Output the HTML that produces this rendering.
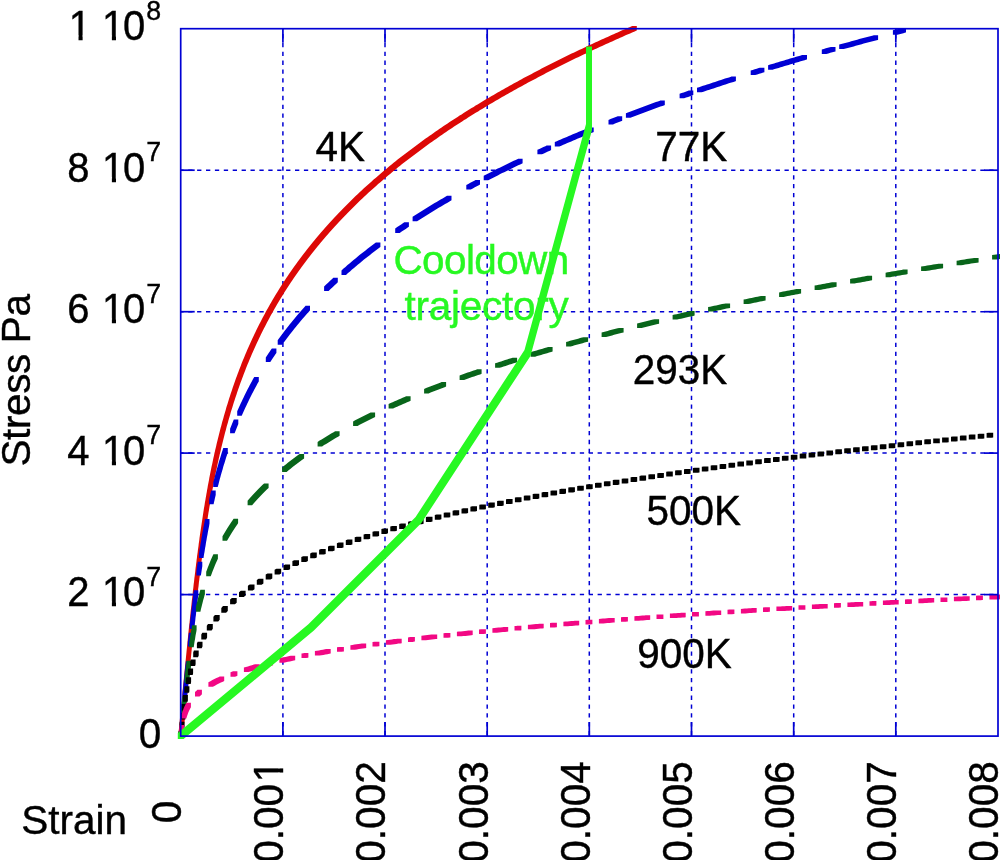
<!DOCTYPE html>
<html><head><meta charset="utf-8"><title>Stress-strain</title>
<style>html,body{margin:0;padding:0;background:#fff}svg{display:block}text{font-family:"Liberation Sans",sans-serif;font-size:40px;fill:#000;stroke:#000;stroke-width:0.4px}</style></head><body>
<svg width="1000" height="860" viewBox="0 0 1000 860">
<rect width="1000" height="860" fill="#fff"/>
<g stroke="#0000D4" stroke-width="1.5" stroke-dasharray="4.3 4.52" stroke-dashoffset="7.92" fill="none"><line x1="282.9" y1="736.1" x2="282.9" y2="28.7"/><line x1="385.0" y1="736.1" x2="385.0" y2="28.7"/><line x1="487.2" y1="736.1" x2="487.2" y2="28.7"/><line x1="589.3" y1="736.1" x2="589.3" y2="28.7"/><line x1="691.5" y1="736.1" x2="691.5" y2="28.7"/><line x1="793.7" y1="736.1" x2="793.7" y2="28.7"/><line x1="895.8" y1="736.1" x2="895.8" y2="28.7"/></g>
<g stroke="#0000D4" stroke-width="1.5" stroke-dasharray="4.3 4.6" stroke-dashoffset="1.4" fill="none"><line x1="180.7" y1="594.6" x2="998.0" y2="594.6"/><line x1="180.7" y1="453.1" x2="998.0" y2="453.1"/><line x1="180.7" y1="311.7" x2="998.0" y2="311.7"/><line x1="180.7" y1="170.2" x2="998.0" y2="170.2"/></g>
<path d="M178.4,733.9 178.6,731.9 178.8,729.9 179.0,727.9 179.2,725.9 179.4,723.9 179.6,721.9 179.8,719.9 180.0,717.9 180.2,715.9 180.4,713.9 180.6,711.9 180.8,709.9 181.0,707.9 181.2,705.9 181.4,703.9 181.6,701.9 181.8,699.9 182.0,697.9 182.2,695.9 182.4,693.9 182.5,691.9 182.7,689.9 182.9,687.9 183.1,685.9 183.3,683.9 183.5,681.9 183.7,679.9 183.9,677.9 184.1,675.9 184.3,673.9 184.5,671.9 184.7,669.9 184.9,667.9 185.1,665.9 185.3,663.9 185.5,661.9 185.7,659.9 185.9,657.9 186.1,655.9 186.3,653.9 186.5,651.9 186.7,649.9 186.9,647.9 187.1,645.9 187.3,643.9 187.5,641.9 187.7,639.9 187.9,637.9 188.1,635.9 188.3,633.9 188.5,631.9 188.7,629.9 188.9,627.9 189.1,625.9 189.4,623.9 189.6,621.9 189.8,619.9 190.0,617.9 190.2,615.9 190.4,613.9 190.6,611.9 190.8,609.9 191.1,607.9 191.3,605.9 191.5,603.9 191.7,601.9 191.9,599.9 192.2,597.9 192.4,595.9 192.6,593.9 192.8,591.9 193.0,589.9 193.3,587.9 193.5,585.9 193.7,583.9 194.0,581.9 194.2,579.9 194.4,577.9 194.7,575.9 194.9,573.9 195.2,571.9 195.4,569.9 195.6,567.9 195.9,565.9 196.1,563.9 196.4,561.9 196.6,559.9 196.9,557.9 197.1,555.9 197.4,553.9 197.7,551.9 197.9,549.9 198.2,547.9 198.5,545.9 198.7,543.9 199.0,541.9 199.3,539.9 199.5,537.9 199.8,535.9 200.1,533.9 200.4,531.9 200.7,529.9 201.0,527.9 201.3,525.9 201.6,523.9 201.9,521.9 202.2,519.9 202.5,517.9 202.8,515.9 203.1,513.9 203.4,511.9 203.7,509.9 204.0,507.9 204.4,505.9 204.7,503.9 205.0,501.9 205.4,499.9 205.7,497.9 206.1,495.9 206.4,493.9 206.8,491.9 207.1,489.9 207.5,487.9 207.8,485.9 208.2,483.9 208.6,481.9 209.0,479.9 209.3,477.9 209.7,475.9 210.1,473.9 210.5,471.9 210.9,469.9 211.3,467.9 211.7,465.9 212.2,463.9 212.6,461.9 213.0,459.9 213.4,457.9 213.9,455.9 214.3,453.9 214.8,451.9 215.2,449.9 215.7,447.9 216.2,445.9 216.6,443.9 217.1,441.9 217.6,439.9 218.1,437.9 218.6,435.9 219.1,433.9 219.6,431.9 220.1,429.9 220.6,427.9 221.2,425.9 221.7,423.9 222.2,421.9 222.8,419.9 223.4,417.9 223.9,415.9 224.5,413.9 225.1,411.9 225.7,409.9 226.2,407.9 226.8,405.9 227.5,403.9 228.1,401.9 228.7,399.9 229.3,397.9 230.0,395.9 230.6,393.9 231.3,391.9 232.0,389.9 232.6,387.9 233.3,385.9 234.0,383.9 234.7,381.9 235.4,379.9 236.1,377.9 236.9,375.9 237.6,373.9 238.4,371.9 239.1,369.9 239.9,367.9 240.7,365.9 241.4,363.9 242.2,361.9 243.0,359.9 243.9,357.9 244.7,355.9 245.5,353.9 246.4,351.9 247.2,349.9 248.1,347.9 249.0,345.9 249.9,343.9 250.8,341.9 251.7,339.9 252.6,337.9 253.6,335.9 254.5,333.9 255.5,331.9 256.4,329.9 257.4,327.9 258.4,325.9 259.4,323.9 260.5,321.9 261.5,319.9 262.5,317.9 263.6,315.9 264.7,313.9 265.7,311.9 266.8,309.9 268.0,307.9 269.1,305.9 270.2,303.9 271.4,301.9 272.5,299.9 273.7,297.9 274.9,295.9 276.1,293.9 277.4,291.9 278.6,289.9 279.8,287.9 281.1,285.9 282.4,283.9 283.7,281.9 285.0,279.9 286.3,277.9 287.7,275.9 289.0,273.9 290.4,271.9 291.8,269.9 293.2,267.9 294.6,265.9 296.1,263.9 297.5,261.9 299.0,259.9 300.5,257.9 302.0,255.9 303.5,253.9 305.1,251.9 306.6,249.9 308.2,247.9 309.8,245.9 311.4,243.9 313.0,241.9 314.7,239.9 316.3,237.9 318.0,235.9 319.7,233.9 321.4,231.9 323.2,229.9 324.9,227.9 326.7,225.9 328.5,223.9 330.3,221.9 332.2,219.9 334.0,217.9 335.9,215.9 337.8,213.9 339.7,211.9 341.7,209.9 343.6,207.9 345.6,205.9 347.6,203.9 349.6,201.9 351.6,199.9 353.6,198.0 355.6,196.1 357.6,194.2 359.6,192.3 361.6,190.4 363.6,188.6 365.6,186.8 367.6,185.0 369.6,183.2 371.6,181.4 373.6,179.6 375.6,177.9 377.6,176.2 379.6,174.4 381.6,172.7 383.6,171.1 385.6,169.4 387.6,167.7 389.6,166.1 391.6,164.5 393.6,162.8 395.6,161.2 397.6,159.6 399.6,158.1 401.6,156.5 403.6,155.0 405.6,153.4 407.6,151.9 409.6,150.4 411.6,148.9 413.6,147.4 415.6,145.9 417.6,144.4 419.6,142.9 421.6,141.5 423.6,140.0 425.6,138.6 427.6,137.2 429.6,135.8 431.6,134.4 433.6,133.0 435.6,131.6 437.6,130.2 439.6,128.8 441.6,127.5 443.6,126.1 445.6,124.8 447.6,123.5 449.6,122.1 451.6,120.8 453.6,119.5 455.6,118.2 457.6,116.9 459.6,115.6 461.6,114.4 463.6,113.1 465.6,111.8 467.6,110.6 469.6,109.3 471.6,108.1 473.6,106.9 475.6,105.6 477.6,104.4 479.6,103.2 481.6,102.0 483.6,100.8 485.6,99.6 487.6,98.4 489.6,97.3 491.6,96.1 493.6,94.9 495.6,93.8 497.6,92.6 499.6,91.5 501.6,90.3 503.6,89.2 505.6,88.0 507.6,86.9 509.6,85.8 511.6,84.7 513.6,83.6 515.6,82.5 517.6,81.4 519.6,80.3 521.6,79.2 523.6,78.1 525.6,77.1 527.6,76.0 529.6,74.9 531.6,73.9 533.6,72.8 535.6,71.8 537.6,70.7 539.6,69.7 541.6,68.6 543.6,67.6 545.6,66.6 547.6,65.6 549.6,64.5 551.6,63.5 553.6,62.5 555.6,61.5 557.6,60.5 559.6,59.5 561.6,58.5 563.6,57.6 565.6,56.6 567.6,55.6 569.6,54.6 571.6,53.6 573.6,52.7 575.6,51.7 577.6,50.8 579.6,49.8 581.6,48.9 583.6,47.9 585.6,47.0 587.6,46.0 589.6,45.1 591.6,44.2 593.6,43.2 595.6,42.3 597.6,41.4 599.6,40.5 601.6,39.6 603.6,38.7 605.6,37.8 607.6,36.9 609.6,36.0 611.6,35.1 613.6,34.2 615.6,33.3 617.6,32.4 619.6,31.5 621.6,30.6 623.6,29.8 625.6,28.9 627.6,28.0 629.6,27.2 631.6,26.3 632.3,26.0 636.8,26.0 636.8,30.5 636.1,30.8 634.1,31.7 632.1,32.5 630.1,33.4 628.1,34.3 626.1,35.1 624.1,36.0 622.1,36.9 620.1,37.8 618.1,38.7 616.1,39.6 614.1,40.5 612.1,41.4 610.1,42.3 608.1,43.2 606.1,44.1 604.1,45.0 602.1,45.9 600.1,46.8 598.1,47.7 596.1,48.7 594.1,49.6 592.1,50.5 590.1,51.5 588.1,52.4 586.1,53.4 584.1,54.3 582.1,55.3 580.1,56.2 578.1,57.2 576.1,58.1 574.1,59.1 572.1,60.1 570.1,61.1 568.1,62.1 566.1,63.0 564.1,64.0 562.1,65.0 560.1,66.0 558.1,67.0 556.1,68.0 554.1,69.0 552.1,70.1 550.1,71.1 548.1,72.1 546.1,73.1 544.1,74.2 542.1,75.2 540.1,76.3 538.1,77.3 536.1,78.4 534.1,79.4 532.1,80.5 530.1,81.6 528.1,82.6 526.1,83.7 524.1,84.8 522.1,85.9 520.1,87.0 518.1,88.1 516.1,89.2 514.1,90.3 512.1,91.4 510.1,92.5 508.1,93.7 506.1,94.8 504.1,96.0 502.1,97.1 500.1,98.3 498.1,99.4 496.1,100.6 494.1,101.8 492.1,102.9 490.1,104.1 488.1,105.3 486.1,106.5 484.1,107.7 482.1,108.9 480.1,110.1 478.1,111.4 476.1,112.6 474.1,113.8 472.1,115.1 470.1,116.3 468.1,117.6 466.1,118.9 464.1,120.1 462.1,121.4 460.1,122.7 458.1,124.0 456.1,125.3 454.1,126.6 452.1,128.0 450.1,129.3 448.1,130.6 446.1,132.0 444.1,133.3 442.1,134.7 440.1,136.1 438.1,137.5 436.1,138.9 434.1,140.3 432.1,141.7 430.1,143.1 428.1,144.5 426.1,146.0 424.1,147.4 422.1,148.9 420.1,150.4 418.1,151.9 416.1,153.4 414.1,154.9 412.1,156.4 410.1,157.9 408.1,159.5 406.1,161.0 404.1,162.6 402.1,164.1 400.1,165.7 398.1,167.3 396.1,169.0 394.1,170.6 392.1,172.2 390.1,173.9 388.1,175.6 386.1,177.2 384.1,178.9 382.1,180.7 380.1,182.4 378.1,184.1 376.1,185.9 374.1,187.7 372.1,189.5 370.1,191.3 368.1,193.1 366.1,194.9 364.1,196.8 362.1,198.7 360.1,200.6 358.1,202.5 356.1,204.4 354.1,206.4 352.1,208.4 350.1,210.4 348.1,212.4 346.2,214.4 344.2,216.4 342.3,218.4 340.4,220.4 338.5,222.4 336.7,224.4 334.8,226.4 333.0,228.4 331.2,230.4 329.4,232.4 327.7,234.4 325.9,236.4 324.2,238.4 322.5,240.4 320.8,242.4 319.2,244.4 317.5,246.4 315.9,248.4 314.3,250.4 312.7,252.4 311.1,254.4 309.6,256.4 308.0,258.4 306.5,260.4 305.0,262.4 303.5,264.4 302.0,266.4 300.6,268.4 299.1,270.4 297.7,272.4 296.3,274.4 294.9,276.4 293.5,278.4 292.2,280.4 290.8,282.4 289.5,284.4 288.2,286.4 286.9,288.4 285.6,290.4 284.3,292.4 283.1,294.4 281.9,296.4 280.6,298.4 279.4,300.4 278.2,302.4 277.0,304.4 275.9,306.4 274.7,308.4 273.6,310.4 272.5,312.4 271.3,314.4 270.2,316.4 269.2,318.4 268.1,320.4 267.0,322.4 266.0,324.4 265.0,326.4 263.9,328.4 262.9,330.4 261.9,332.4 260.9,334.4 260.0,336.4 259.0,338.4 258.1,340.4 257.1,342.4 256.2,344.4 255.3,346.4 254.4,348.4 253.5,350.4 252.6,352.4 251.7,354.4 250.9,356.4 250.0,358.4 249.2,360.4 248.4,362.4 247.5,364.4 246.7,366.4 245.9,368.4 245.2,370.4 244.4,372.4 243.6,374.4 242.9,376.4 242.1,378.4 241.4,380.4 240.6,382.4 239.9,384.4 239.2,386.4 238.5,388.4 237.8,390.4 237.1,392.4 236.5,394.4 235.8,396.4 235.1,398.4 234.5,400.4 233.8,402.4 233.2,404.4 232.6,406.4 232.0,408.4 231.3,410.4 230.7,412.4 230.2,414.4 229.6,416.4 229.0,418.4 228.4,420.4 227.9,422.4 227.3,424.4 226.7,426.4 226.2,428.4 225.7,430.4 225.1,432.4 224.6,434.4 224.1,436.4 223.6,438.4 223.1,440.4 222.6,442.4 222.1,444.4 221.6,446.4 221.1,448.4 220.7,450.4 220.2,452.4 219.7,454.4 219.3,456.4 218.8,458.4 218.4,460.4 217.9,462.4 217.5,464.4 217.1,466.4 216.7,468.4 216.2,470.4 215.8,472.4 215.4,474.4 215.0,476.4 214.6,478.4 214.2,480.4 213.8,482.4 213.5,484.4 213.1,486.4 212.7,488.4 212.3,490.4 212.0,492.4 211.6,494.4 211.3,496.4 210.9,498.4 210.6,500.4 210.2,502.4 209.9,504.4 209.5,506.4 209.2,508.4 208.9,510.4 208.5,512.4 208.2,514.4 207.9,516.4 207.6,518.4 207.3,520.4 207.0,522.4 206.7,524.4 206.4,526.4 206.1,528.4 205.8,530.4 205.5,532.4 205.2,534.4 204.9,536.4 204.6,538.4 204.3,540.4 204.0,542.4 203.8,544.4 203.5,546.4 203.2,548.4 203.0,550.4 202.7,552.4 202.4,554.4 202.2,556.4 201.9,558.4 201.6,560.4 201.4,562.4 201.1,564.4 200.9,566.4 200.6,568.4 200.4,570.4 200.1,572.4 199.9,574.4 199.7,576.4 199.4,578.4 199.2,580.4 198.9,582.4 198.7,584.4 198.5,586.4 198.2,588.4 198.0,590.4 197.8,592.4 197.5,594.4 197.3,596.4 197.1,598.4 196.9,600.4 196.7,602.4 196.4,604.4 196.2,606.4 196.0,608.4 195.8,610.4 195.6,612.4 195.3,614.4 195.1,616.4 194.9,618.4 194.7,620.4 194.5,622.4 194.3,624.4 194.1,626.4 193.9,628.4 193.6,630.4 193.4,632.4 193.2,634.4 193.0,636.4 192.8,638.4 192.6,640.4 192.4,642.4 192.2,644.4 192.0,646.4 191.8,648.4 191.6,650.4 191.4,652.4 191.2,654.4 191.0,656.4 190.8,658.4 190.6,660.4 190.4,662.4 190.2,664.4 190.0,666.4 189.8,668.4 189.6,670.4 189.4,672.4 189.2,674.4 189.0,676.4 188.8,678.4 188.6,680.4 188.4,682.4 188.2,684.4 188.0,686.4 187.8,688.4 187.6,690.4 187.4,692.4 187.2,694.4 187.0,696.4 186.9,698.4 186.7,700.4 186.5,702.4 186.3,704.4 186.1,706.4 185.9,708.4 185.7,710.4 185.5,712.4 185.3,714.4 185.1,716.4 184.9,718.4 184.7,720.4 184.5,722.4 184.3,724.4 184.1,726.4 183.9,728.4 183.7,730.4 183.5,732.4 183.3,734.4 183.1,736.4 182.9,738.4 178.4,738.4Z" fill="#DD0806"/>
<path d="M178.4,733.9 178.6,732.4 183.1,732.4 183.1,736.9 182.9,738.4 178.4,738.4ZM180.5,713.1 180.7,711.1 180.9,709.1 181.1,707.1 181.3,705.1 181.5,703.9 186.0,703.9 186.0,708.4 185.8,709.6 185.6,711.6 185.4,713.6 185.2,715.6 185.0,717.6 180.5,717.6ZM182.3,695.7 182.5,693.7 182.7,691.7 182.9,689.7 183.1,687.7 183.3,685.7 183.5,683.7 183.7,681.7 183.9,679.7 184.1,677.7 184.3,675.7 184.5,673.7 184.7,671.7 184.9,669.7 185.1,667.7 185.3,665.7 185.6,663.7 185.8,661.7 185.8,661.3 190.3,661.3 190.3,665.8 190.3,666.2 190.1,668.2 189.8,670.2 189.6,672.2 189.4,674.2 189.2,676.2 189.0,678.2 188.8,680.2 188.6,682.2 188.4,684.2 188.2,686.2 188.0,688.2 187.8,690.2 187.6,692.2 187.4,694.2 187.2,696.2 187.0,698.2 186.8,700.2 182.3,700.2ZM187.8,642.0 188.1,640.0 188.3,638.0 188.5,636.0 188.7,634.0 188.8,632.8 193.3,632.8 193.3,637.3 193.2,638.5 193.0,640.5 192.8,642.5 192.6,644.5 192.3,646.5 187.8,646.5ZM189.7,624.6 190.0,622.6 190.2,620.6 190.4,618.6 190.7,616.6 190.9,614.6 191.1,612.6 191.4,610.6 191.6,608.6 191.8,606.6 192.1,604.6 192.3,602.6 192.5,600.6 192.8,598.6 193.0,596.6 193.3,594.6 193.5,592.6 193.8,590.6 193.8,590.2 198.3,590.2 198.3,594.7 198.3,595.1 198.0,597.1 197.8,599.1 197.5,601.1 197.3,603.1 197.0,605.1 196.8,607.1 196.6,609.1 196.3,611.1 196.1,613.1 195.9,615.1 195.6,617.1 195.4,619.1 195.2,621.1 194.9,623.1 194.7,625.1 194.5,627.1 194.2,629.1 189.7,629.1ZM196.4,570.9 196.7,568.9 197.0,566.9 197.3,564.9 197.6,562.9 197.8,561.7 202.3,561.7 202.3,566.2 202.1,567.4 201.8,569.4 201.5,571.4 201.2,573.4 200.9,575.4 196.4,575.4ZM199.0,553.5 199.3,551.5 199.6,549.5 200.0,547.5 200.3,545.5 200.6,543.5 201.0,541.5 201.3,539.5 201.6,537.5 202.0,535.5 202.3,533.5 202.7,531.5 203.1,529.5 203.4,527.5 203.8,525.5 204.2,523.5 204.6,521.5 204.9,519.5 205.0,519.1 209.5,519.1 209.5,523.6 209.4,524.0 209.1,526.0 208.7,528.0 208.3,530.0 207.9,532.0 207.6,534.0 207.2,536.0 206.8,538.0 206.5,540.0 206.1,542.0 205.8,544.0 205.5,546.0 205.1,548.0 204.8,550.0 204.5,552.0 204.1,554.0 203.8,556.0 203.5,558.0 199.0,558.0ZM209.1,499.8 209.5,497.8 210.0,495.8 210.4,493.8 210.9,491.8 211.2,490.6 215.7,490.6 215.7,495.1 215.4,496.3 214.9,498.3 214.5,500.3 214.0,502.3 213.6,504.3 209.1,504.3ZM213.2,482.4 213.8,480.4 214.3,478.4 214.8,476.4 215.3,474.4 215.9,472.4 216.4,470.4 217.0,468.4 217.6,466.4 218.2,464.4 218.7,462.4 219.3,460.4 220.0,458.4 220.6,456.4 221.2,454.4 221.8,452.4 222.5,450.4 223.1,448.4 223.3,448.0 227.8,448.0 227.8,452.5 227.6,452.9 227.0,454.9 226.3,456.9 225.7,458.9 225.1,460.9 224.5,462.9 223.8,464.9 223.2,466.9 222.7,468.9 222.1,470.9 221.5,472.9 220.9,474.9 220.4,476.9 219.8,478.9 219.3,480.9 218.8,482.9 218.3,484.9 217.7,486.9 213.2,486.9ZM230.1,428.7 230.9,426.7 231.7,424.7 232.5,422.7 233.3,420.7 233.8,419.5 238.3,419.5 238.3,424.0 237.8,425.2 237.0,427.2 236.2,429.2 235.4,431.2 234.6,433.2 230.1,433.2ZM237.2,411.3 238.1,409.3 239.0,407.3 239.9,405.3 240.8,403.3 241.8,401.3 242.7,399.3 243.7,397.3 244.6,395.3 245.6,393.3 246.6,391.3 247.6,389.3 248.7,387.3 249.7,385.3 250.8,383.3 251.9,381.3 252.9,379.3 254.1,377.3 254.3,376.9 258.8,376.9 258.8,381.4 258.6,381.8 257.4,383.8 256.4,385.8 255.3,387.8 254.2,389.8 253.2,391.8 252.1,393.8 251.1,395.8 250.1,397.8 249.1,399.8 248.2,401.8 247.2,403.8 246.3,405.8 245.3,407.8 244.4,409.8 243.5,411.8 242.6,413.8 241.7,415.8 237.2,415.8ZM265.8,357.6 267.1,355.6 268.4,353.6 269.8,351.6 271.1,349.6 271.9,348.4 276.4,348.4 276.4,352.9 275.6,354.1 274.3,356.1 272.9,358.1 271.6,360.1 270.3,362.1 265.8,362.1ZM277.7,340.2 279.1,338.2 280.6,336.2 282.1,334.2 283.6,332.2 285.1,330.2 286.7,328.2 288.3,326.2 289.8,324.2 291.5,322.2 293.1,320.2 294.8,318.2 296.4,316.2 298.1,314.2 299.9,312.2 301.6,310.2 303.4,308.2 305.2,306.2 305.5,305.8 310.0,305.8 310.0,310.3 309.7,310.7 307.9,312.7 306.1,314.7 304.4,316.7 302.6,318.7 300.9,320.7 299.3,322.7 297.6,324.7 296.0,326.7 294.3,328.7 292.8,330.7 291.2,332.7 289.6,334.7 288.1,336.7 286.6,338.7 285.1,340.7 283.6,342.7 282.2,344.7 277.7,344.7ZM324.1,286.5 326.1,284.6 328.1,282.7 330.1,280.8 332.1,278.9 333.3,277.8 337.8,277.8 337.8,282.3 336.6,283.4 334.6,285.3 332.6,287.2 330.6,289.1 328.6,291.0 324.1,291.0ZM341.5,270.4 343.5,268.6 345.5,266.9 347.5,265.1 349.5,263.4 351.5,261.7 353.5,260.1 355.5,258.4 357.5,256.8 359.5,255.1 361.5,253.5 363.5,251.9 365.5,250.4 367.5,248.8 369.5,247.2 371.5,245.7 373.5,244.2 375.5,242.7 375.9,242.4 380.4,242.4 380.4,246.9 380.0,247.2 378.0,248.7 376.0,250.2 374.0,251.7 372.0,253.3 370.0,254.9 368.0,256.4 366.0,258.0 364.0,259.6 362.0,261.3 360.0,262.9 358.0,264.6 356.0,266.2 354.0,267.9 352.0,269.6 350.0,271.4 348.0,273.1 346.0,274.9 341.5,274.9ZM395.2,228.5 397.2,227.1 399.2,225.7 401.2,224.4 403.2,223.0 404.4,222.2 408.9,222.2 408.9,226.7 407.7,227.5 405.7,228.9 403.7,230.2 401.7,231.6 399.7,233.0 395.2,233.0ZM412.6,216.8 414.6,215.6 416.6,214.3 418.6,213.0 420.6,211.7 422.6,210.5 424.6,209.2 426.6,208.0 428.6,206.8 430.6,205.5 432.6,204.3 434.6,203.1 436.6,201.9 438.6,200.7 440.6,199.6 442.6,198.4 444.6,197.2 446.6,196.1 447.0,195.8 451.5,195.8 451.5,200.3 451.1,200.6 449.1,201.7 447.1,202.9 445.1,204.1 443.1,205.2 441.1,206.4 439.1,207.6 437.1,208.8 435.1,210.0 433.1,211.3 431.1,212.5 429.1,213.7 427.1,215.0 425.1,216.2 423.1,217.5 421.1,218.8 419.1,220.1 417.1,221.3 412.6,221.3ZM466.3,185.0 468.3,183.9 470.3,182.8 472.3,181.8 474.3,180.7 475.5,180.1 480.0,180.1 480.0,184.6 478.8,185.2 476.8,186.3 474.8,187.3 472.8,188.4 470.8,189.5 466.3,189.5ZM483.7,175.8 485.7,174.7 487.7,173.7 489.7,172.7 491.7,171.7 493.7,170.7 495.7,169.6 497.7,168.6 499.7,167.7 501.7,166.7 503.7,165.7 505.7,164.7 507.7,163.7 509.7,162.7 511.7,161.8 513.7,160.8 515.7,159.9 517.7,158.9 518.1,158.7 522.6,158.7 522.6,163.2 522.2,163.4 520.2,164.4 518.2,165.3 516.2,166.3 514.2,167.2 512.2,168.2 510.2,169.2 508.2,170.2 506.2,171.2 504.2,172.2 502.2,173.1 500.2,174.1 498.2,175.2 496.2,176.2 494.2,177.2 492.2,178.2 490.2,179.2 488.2,180.3 483.7,180.3ZM537.4,149.8 539.4,148.9 541.4,148.0 543.4,147.1 545.4,146.2 546.6,145.6 551.1,145.6 551.1,150.1 549.9,150.7 547.9,151.6 545.9,152.5 543.9,153.4 541.9,154.3 537.4,154.3ZM554.8,142.0 556.8,141.2 558.8,140.3 560.8,139.4 562.8,138.6 564.8,137.7 566.8,136.9 568.8,136.0 570.8,135.2 572.8,134.3 574.8,133.5 576.8,132.7 578.8,131.8 580.8,131.0 582.8,130.2 584.8,129.4 586.8,128.5 588.8,127.7 589.2,127.6 593.7,127.6 593.7,132.1 593.3,132.2 591.3,133.0 589.3,133.9 587.3,134.7 585.3,135.5 583.3,136.3 581.3,137.2 579.3,138.0 577.3,138.8 575.3,139.7 573.3,140.5 571.3,141.4 569.3,142.2 567.3,143.1 565.3,143.9 563.3,144.8 561.3,145.7 559.3,146.5 554.8,146.5ZM608.5,119.9 610.5,119.1 612.5,118.3 614.5,117.5 616.5,116.8 617.7,116.3 622.2,116.3 622.2,120.8 621.0,121.3 619.0,122.0 617.0,122.8 615.0,123.6 613.0,124.4 608.5,124.4ZM625.9,113.2 627.9,112.4 629.9,111.7 631.9,110.9 633.9,110.2 635.9,109.4 637.9,108.7 639.9,107.9 641.9,107.2 643.9,106.5 645.9,105.7 647.9,105.0 649.9,104.3 651.9,103.6 653.9,102.8 655.9,102.1 657.9,101.4 659.9,100.7 660.3,100.5 664.8,100.5 664.8,105.0 664.4,105.2 662.4,105.9 660.4,106.6 658.4,107.3 656.4,108.1 654.4,108.8 652.4,109.5 650.4,110.2 648.4,111.0 646.4,111.7 644.4,112.4 642.4,113.2 640.4,113.9 638.4,114.7 636.4,115.4 634.4,116.2 632.4,116.9 630.4,117.7 625.9,117.7ZM679.6,93.8 681.6,93.1 683.6,92.4 685.6,91.7 687.6,91.0 688.8,90.6 693.3,90.6 693.3,95.1 692.1,95.5 690.1,96.2 688.1,96.9 686.1,97.6 684.1,98.3 679.6,98.3ZM697.0,87.8 699.0,87.2 701.0,86.5 703.0,85.8 705.0,85.2 707.0,84.5 709.0,83.9 711.0,83.2 713.0,82.5 715.0,81.9 717.0,81.2 719.0,80.6 721.0,79.9 723.0,79.3 725.0,78.6 727.0,78.0 729.0,77.4 731.0,76.7 731.4,76.6 735.9,76.6 735.9,81.1 735.5,81.2 733.5,81.9 731.5,82.5 729.5,83.1 727.5,83.8 725.5,84.4 723.5,85.1 721.5,85.7 719.5,86.4 717.5,87.0 715.5,87.7 713.5,88.4 711.5,89.0 709.5,89.7 707.5,90.3 705.5,91.0 703.5,91.7 701.5,92.3 697.0,92.3ZM750.7,70.5 752.7,69.9 754.7,69.3 756.7,68.7 758.7,68.0 759.9,67.7 764.4,67.7 764.4,72.2 763.2,72.5 761.2,73.2 759.2,73.8 757.2,74.4 755.2,75.0 750.7,75.0ZM768.1,65.2 770.1,64.6 772.1,64.0 774.1,63.4 776.1,62.8 778.1,62.2 780.1,61.6 782.1,61.0 784.1,60.4 786.1,59.8 788.1,59.2 790.1,58.6 792.1,58.0 794.1,57.4 796.1,56.8 798.1,56.3 800.1,55.7 802.1,55.1 802.5,55.0 807.0,55.0 807.0,59.5 806.6,59.6 804.6,60.2 802.6,60.8 800.6,61.3 798.6,61.9 796.6,62.5 794.6,63.1 792.6,63.7 790.6,64.3 788.6,64.9 786.6,65.5 784.6,66.1 782.6,66.7 780.6,67.3 778.6,67.9 776.6,68.5 774.6,69.1 772.6,69.7 768.1,69.7ZM821.8,49.5 823.8,48.9 825.8,48.3 827.8,47.8 829.8,47.2 831.0,46.9 835.5,46.9 835.5,51.4 834.3,51.7 832.3,52.3 830.3,52.8 828.3,53.4 826.3,54.0 821.8,54.0ZM839.2,44.6 841.2,44.1 843.2,43.5 845.2,43.0 847.2,42.4 849.2,41.9 851.2,41.3 853.2,40.8 855.2,40.2 857.2,39.7 859.2,39.1 861.2,38.6 863.2,38.1 865.2,37.5 867.2,37.0 869.2,36.5 871.2,35.9 873.2,35.4 873.6,35.3 878.1,35.3 878.1,39.8 877.7,39.9 875.7,40.4 873.7,41.0 871.7,41.5 869.7,42.0 867.7,42.6 865.7,43.1 863.7,43.6 861.7,44.2 859.7,44.7 857.7,45.3 855.7,45.8 853.7,46.4 851.7,46.9 849.7,47.5 847.7,48.0 845.7,48.6 843.7,49.1 839.2,49.1ZM892.9,30.2 894.9,29.7 896.9,29.2 898.9,28.7 900.9,28.1 901.5,28.0 906.0,28.0 906.0,32.5 905.4,32.6 903.4,33.2 901.4,33.7 899.4,34.2 897.4,34.7 892.9,34.7Z" fill="#0000D4"/>
<path d="M178.4,733.9 178.7,731.9 178.7,731.8 183.2,731.8 183.2,736.3 183.2,736.4 182.9,738.4 178.4,738.4ZM180.6,713.8 180.8,711.8 181.0,709.8 181.2,707.8 181.4,705.8 181.6,703.8 181.9,701.8 182.1,699.8 182.3,697.8 182.5,696.3 187.0,696.3 187.0,700.8 186.8,702.3 186.6,704.3 186.4,706.3 186.1,708.3 185.9,710.3 185.7,712.3 185.5,714.3 185.3,716.3 185.1,718.3 180.6,718.3ZM184.5,678.3 184.7,676.3 185.0,674.3 185.2,672.3 185.4,670.3 185.7,668.3 185.9,666.3 186.2,664.3 186.5,662.3 186.6,660.8 191.1,660.8 191.1,665.3 191.0,666.8 190.7,668.8 190.4,670.8 190.2,672.8 189.9,674.8 189.7,676.8 189.5,678.8 189.2,680.8 189.0,682.8 184.5,682.8ZM189.2,642.8 189.5,640.8 189.8,638.8 190.1,636.8 190.5,634.8 190.8,632.8 191.1,630.8 191.5,628.8 191.9,626.8 192.1,625.3 196.6,625.3 196.6,629.8 196.4,631.3 196.0,633.3 195.6,635.3 195.3,637.3 195.0,639.3 194.6,641.3 194.3,643.3 194.0,645.3 193.7,647.3 189.2,647.3ZM195.9,607.3 196.3,605.3 196.8,603.3 197.3,601.3 197.8,599.3 198.3,597.3 198.8,595.3 199.4,593.3 199.9,591.3 200.4,589.8 204.9,589.8 204.9,594.3 204.4,595.8 203.9,597.8 203.3,599.8 202.8,601.8 202.3,603.8 201.8,605.8 201.3,607.8 200.8,609.8 200.4,611.8 195.9,611.8ZM206.2,571.8 207.0,569.8 207.7,567.8 208.5,565.8 209.3,563.8 210.1,561.8 210.9,559.8 211.8,557.8 212.7,555.8 213.4,554.3 217.9,554.3 217.9,558.8 217.2,560.3 216.3,562.3 215.4,564.3 214.6,566.3 213.8,568.3 213.0,570.3 212.2,572.3 211.5,574.3 210.7,576.3 206.2,576.3ZM222.5,536.3 223.7,534.3 224.9,532.3 226.1,530.3 227.3,528.3 228.6,526.3 229.9,524.3 231.2,522.3 232.6,520.3 233.6,518.8 238.1,518.8 238.1,523.3 237.1,524.8 235.7,526.8 234.4,528.8 233.1,530.8 231.8,532.8 230.6,534.8 229.4,536.8 228.2,538.8 227.0,540.8 222.5,540.8ZM247.6,500.8 249.3,498.8 251.1,496.8 252.9,494.8 254.8,492.8 256.7,490.8 258.6,488.8 260.6,486.8 262.6,484.8 264.1,483.4 268.6,483.4 268.6,487.9 267.1,489.3 265.1,491.3 263.1,493.3 261.2,495.3 259.3,497.3 257.4,499.3 255.6,501.3 253.8,503.3 252.1,505.3 247.6,505.3ZM282.1,467.4 284.1,465.8 286.1,464.2 288.1,462.6 290.1,461.1 292.1,459.6 294.1,458.1 296.1,456.6 298.1,455.1 299.6,454.1 304.1,454.1 304.1,458.6 302.6,459.6 300.6,461.1 298.6,462.6 296.6,464.1 294.6,465.6 292.6,467.1 290.6,468.7 288.6,470.3 286.6,471.9 282.1,471.9ZM317.6,441.9 319.6,440.6 321.6,439.4 323.6,438.2 325.6,436.9 327.6,435.7 329.6,434.5 331.6,433.3 333.6,432.2 335.1,431.3 339.6,431.3 339.6,435.8 338.1,436.7 336.1,437.8 334.1,439.0 332.1,440.2 330.1,441.4 328.1,442.7 326.1,443.9 324.1,445.1 322.1,446.4 317.6,446.4ZM353.1,421.4 355.1,420.3 357.1,419.3 359.1,418.3 361.1,417.2 363.1,416.2 365.1,415.2 367.1,414.2 369.1,413.2 370.6,412.5 375.1,412.5 375.1,417.0 373.6,417.7 371.6,418.7 369.6,419.7 367.6,420.7 365.6,421.7 363.6,422.8 361.6,423.8 359.6,424.8 357.6,425.9 353.1,425.9ZM388.6,404.0 390.6,403.1 392.6,402.2 394.6,401.3 396.6,400.4 398.6,399.6 400.6,398.7 402.6,397.8 404.6,397.0 406.1,396.3 410.6,396.3 410.6,400.8 409.1,401.5 407.1,402.3 405.1,403.2 403.1,404.1 401.1,404.9 399.1,405.8 397.1,406.7 395.1,407.6 393.1,408.5 388.6,408.5ZM424.1,388.9 426.1,388.1 428.1,387.3 430.1,386.5 432.1,385.8 434.1,385.0 436.1,384.2 438.1,383.4 440.1,382.7 441.6,382.1 446.1,382.1 446.1,386.6 444.6,387.2 442.6,387.9 440.6,388.7 438.6,389.5 436.6,390.3 434.6,391.0 432.6,391.8 430.6,392.6 428.6,393.4 424.1,393.4ZM459.6,375.5 461.6,374.8 463.6,374.0 465.6,373.3 467.6,372.6 469.6,371.9 471.6,371.2 473.6,370.5 475.6,369.9 477.1,369.3 481.6,369.3 481.6,373.8 480.1,374.4 478.1,375.0 476.1,375.7 474.1,376.4 472.1,377.1 470.1,377.8 468.1,378.5 466.1,379.3 464.1,380.0 459.6,380.0ZM495.1,363.3 497.1,362.7 499.1,362.0 501.1,361.4 503.1,360.7 505.1,360.1 507.1,359.5 509.1,358.8 511.1,358.2 512.6,357.7 517.1,357.7 517.1,362.2 515.6,362.7 513.6,363.3 511.6,364.0 509.6,364.6 507.6,365.2 505.6,365.9 503.6,366.5 501.6,367.2 499.6,367.8 495.1,367.8ZM530.6,352.2 532.6,351.6 534.6,351.0 536.6,350.4 538.6,349.8 540.6,349.2 542.6,348.7 544.6,348.1 546.6,347.5 548.1,347.1 552.6,347.1 552.6,351.6 551.1,352.0 549.1,352.6 547.1,353.2 545.1,353.7 543.1,354.3 541.1,354.9 539.1,355.5 537.1,356.1 535.1,356.7 530.6,356.7ZM566.1,342.0 568.1,341.4 570.1,340.8 572.1,340.3 574.1,339.7 576.1,339.2 578.1,338.7 580.1,338.1 582.1,337.6 583.6,337.2 588.1,337.2 588.1,341.7 586.6,342.1 584.6,342.6 582.6,343.2 580.6,343.7 578.6,344.2 576.6,344.8 574.6,345.3 572.6,345.9 570.6,346.5 566.1,346.5ZM601.6,332.4 603.6,331.9 605.6,331.4 607.6,330.9 609.6,330.3 611.6,329.8 613.6,329.3 615.6,328.8 617.6,328.3 619.1,327.9 623.6,327.9 623.6,332.4 622.1,332.8 620.1,333.3 618.1,333.8 616.1,334.3 614.1,334.8 612.1,335.4 610.1,335.9 608.1,336.4 606.1,336.9 601.6,336.9ZM637.1,323.5 639.1,323.0 641.1,322.5 643.1,322.0 645.1,321.5 647.1,321.1 649.1,320.6 651.1,320.1 653.1,319.6 654.6,319.3 659.1,319.3 659.1,323.8 657.6,324.1 655.6,324.6 653.6,325.1 651.6,325.6 649.6,326.0 647.6,326.5 645.6,327.0 643.6,327.5 641.6,328.0 637.1,328.0ZM672.6,315.1 674.6,314.6 676.6,314.2 678.6,313.7 680.6,313.2 682.6,312.8 684.6,312.3 686.6,311.9 688.6,311.4 690.1,311.1 694.6,311.1 694.6,315.6 693.1,315.9 691.1,316.4 689.1,316.8 687.1,317.3 685.1,317.7 683.1,318.2 681.1,318.7 679.1,319.1 677.1,319.6 672.6,319.6ZM708.1,307.1 710.1,306.7 712.1,306.3 714.1,305.8 716.1,305.4 718.1,305.0 720.1,304.5 722.1,304.1 724.1,303.7 725.6,303.4 730.1,303.4 730.1,307.9 728.6,308.2 726.6,308.6 724.6,309.0 722.6,309.5 720.6,309.9 718.6,310.3 716.6,310.8 714.6,311.2 712.6,311.6 708.1,311.6ZM743.6,299.6 745.6,299.2 747.6,298.8 749.6,298.3 751.6,297.9 753.6,297.5 755.6,297.1 757.6,296.7 759.6,296.3 761.1,296.0 765.6,296.0 765.6,300.5 764.1,300.8 762.1,301.2 760.1,301.6 758.1,302.0 756.1,302.4 754.1,302.8 752.1,303.3 750.1,303.7 748.1,304.1 743.6,304.1ZM779.1,292.4 781.1,292.0 783.1,291.6 785.1,291.2 787.1,290.8 789.1,290.4 791.1,290.0 793.1,289.7 795.1,289.3 796.6,289.0 801.1,289.0 801.1,293.5 799.6,293.8 797.6,294.2 795.6,294.5 793.6,294.9 791.6,295.3 789.6,295.7 787.6,296.1 785.6,296.5 783.6,296.9 779.1,296.9ZM814.6,285.5 816.6,285.2 818.6,284.8 820.6,284.4 822.6,284.0 824.6,283.7 826.6,283.3 828.6,282.9 830.6,282.5 832.1,282.3 836.6,282.3 836.6,286.8 835.1,287.0 833.1,287.4 831.1,287.8 829.1,288.2 827.1,288.5 825.1,288.9 823.1,289.3 821.1,289.7 819.1,290.0 814.6,290.0ZM850.1,279.0 852.1,278.6 854.1,278.2 856.1,277.9 858.1,277.5 860.1,277.2 862.1,276.8 864.1,276.5 866.1,276.1 867.6,275.8 872.1,275.8 872.1,280.3 870.6,280.6 868.6,281.0 866.6,281.3 864.6,281.7 862.6,282.0 860.6,282.4 858.6,282.7 856.6,283.1 854.6,283.5 850.1,283.5ZM885.6,272.7 887.6,272.3 889.6,272.0 891.6,271.6 893.6,271.3 895.6,270.9 897.6,270.6 899.6,270.2 901.6,269.9 903.1,269.6 907.6,269.6 907.6,274.1 906.1,274.4 904.1,274.7 902.1,275.1 900.1,275.4 898.1,275.8 896.1,276.1 894.1,276.5 892.1,276.8 890.1,277.2 885.6,277.2ZM921.1,266.6 923.1,266.3 925.1,265.9 927.1,265.6 929.1,265.3 931.1,264.9 933.1,264.6 935.1,264.3 937.1,263.9 938.6,263.7 943.1,263.7 943.1,268.2 941.6,268.4 939.6,268.8 937.6,269.1 935.6,269.4 933.6,269.8 931.6,270.1 929.6,270.4 927.6,270.8 925.6,271.1 921.1,271.1ZM956.6,260.8 958.6,260.4 960.6,260.1 962.6,259.8 964.6,259.5 966.6,259.1 968.6,258.8 970.6,258.5 972.6,258.2 974.1,257.9 978.6,257.9 978.6,262.4 977.1,262.7 975.1,263.0 973.1,263.3 971.1,263.6 969.1,264.0 967.1,264.3 965.1,264.6 963.1,264.9 961.1,265.3 956.6,265.3ZM992.1,255.1 994.1,254.8 996.1,254.5 998.1,254.2 1000.1,253.9 1000.8,253.8 1005.3,253.8 1005.3,258.3 1004.6,258.4 1002.6,258.7 1000.6,259.0 998.6,259.3 996.6,259.6 992.1,259.6Z" fill="#08651A"/>
<path d="M178.4,732.5 178.7,730.7 183.5,730.7 183.5,735.5 183.2,737.3 178.4,737.3ZM179.5,723.6 179.7,721.8 184.5,721.8 184.5,726.6 184.3,728.4 179.5,728.4ZM180.6,714.7 180.8,712.9 185.6,712.9 185.6,717.7 185.4,719.5 180.6,719.5ZM181.7,705.8 181.9,704.0 186.7,704.0 186.7,708.8 186.5,710.6 181.7,710.6ZM182.9,696.9 183.1,695.1 187.9,695.1 187.9,699.9 187.7,701.7 182.9,701.7ZM184.3,688.0 184.6,686.2 189.4,686.2 189.4,691.0 189.1,692.8 184.3,692.8ZM185.9,679.1 186.3,677.3 191.1,677.3 191.1,682.1 190.7,683.9 185.9,683.9ZM187.9,670.2 188.3,668.4 193.1,668.4 193.1,673.2 192.7,675.0 187.9,675.0ZM190.3,661.3 190.8,659.5 195.6,659.5 195.6,664.3 195.1,666.1 190.3,666.1ZM193.2,652.4 193.9,650.6 198.7,650.6 198.7,655.4 198.0,657.2 193.2,657.2ZM196.9,643.5 197.7,641.7 202.5,641.7 202.5,646.5 201.7,648.3 196.9,648.3ZM201.3,634.6 202.3,632.8 207.1,632.8 207.1,637.6 206.1,639.4 201.3,639.4ZM206.8,625.7 208.0,623.9 212.8,623.9 212.8,628.7 211.6,630.5 206.8,630.5ZM213.4,616.8 214.9,615.0 219.7,615.0 219.7,619.8 218.2,621.6 213.4,621.6ZM221.3,607.9 223.0,606.1 227.8,606.1 227.8,610.9 226.1,612.7 221.3,612.7ZM230.1,599.5 231.9,597.9 236.7,597.9 236.7,602.7 234.9,604.3 230.1,604.3ZM239.0,592.2 240.8,590.8 245.6,590.8 245.6,595.6 243.8,597.0 239.0,597.0ZM247.9,585.7 249.7,584.5 254.5,584.5 254.5,589.3 252.7,590.5 247.9,590.5ZM256.8,579.9 258.6,578.8 263.4,578.8 263.4,583.6 261.6,584.7 256.8,584.7ZM265.7,574.6 267.5,573.6 272.3,573.6 272.3,578.4 270.5,579.4 265.7,579.4ZM274.6,569.8 276.4,568.8 281.2,568.8 281.2,573.6 279.4,574.6 274.6,574.6ZM283.5,565.3 285.3,564.4 290.1,564.4 290.1,569.2 288.3,570.1 283.5,570.1ZM292.4,561.1 294.2,560.2 299.0,560.2 299.0,565.0 297.2,565.9 292.4,565.9ZM301.3,557.1 303.1,556.3 307.9,556.3 307.9,561.1 306.1,561.9 301.3,561.9ZM310.2,553.4 312.0,552.6 316.8,552.6 316.8,557.4 315.0,558.2 310.2,558.2ZM319.1,549.8 320.9,549.1 325.7,549.1 325.7,553.9 323.9,554.6 319.1,554.6ZM328.0,546.5 329.8,545.8 334.6,545.8 334.6,550.6 332.8,551.3 328.0,551.3ZM336.9,543.3 338.7,542.6 343.5,542.6 343.5,547.4 341.7,548.1 336.9,548.1ZM345.8,540.2 347.6,539.6 352.4,539.6 352.4,544.4 350.6,545.0 345.8,545.0ZM354.7,537.3 356.5,536.7 361.3,536.7 361.3,541.5 359.5,542.1 354.7,542.1ZM363.6,534.4 365.4,533.9 370.2,533.9 370.2,538.7 368.4,539.2 363.6,539.2ZM372.5,531.7 374.3,531.2 379.1,531.2 379.1,536.0 377.3,536.5 372.5,536.5ZM381.4,529.1 383.2,528.5 388.0,528.5 388.0,533.3 386.2,533.9 381.4,533.9ZM390.3,526.5 392.1,526.0 396.9,526.0 396.9,530.8 395.1,531.3 390.3,531.3ZM399.2,524.1 401.0,523.6 405.8,523.6 405.8,528.4 404.0,528.9 399.2,528.9ZM408.1,521.7 409.9,521.2 414.7,521.2 414.7,526.0 412.9,526.5 408.1,526.5ZM417.0,519.4 418.8,518.9 423.6,518.9 423.6,523.7 421.8,524.2 417.0,524.2ZM425.9,517.1 427.7,516.7 432.5,516.7 432.5,521.5 430.7,521.9 425.9,521.9ZM434.8,514.9 436.6,514.5 441.4,514.5 441.4,519.3 439.6,519.7 434.8,519.7ZM443.7,512.8 445.5,512.4 450.3,512.4 450.3,517.2 448.5,517.6 443.7,517.6ZM452.6,510.7 454.4,510.3 459.2,510.3 459.2,515.1 457.4,515.5 452.6,515.5ZM461.5,508.7 463.3,508.3 468.1,508.3 468.1,513.1 466.3,513.5 461.5,513.5ZM470.4,506.7 472.2,506.3 477.0,506.3 477.0,511.1 475.2,511.5 470.4,511.5ZM479.3,504.8 481.1,504.4 485.9,504.4 485.9,509.2 484.1,509.6 479.3,509.6ZM488.2,502.9 490.0,502.5 494.8,502.5 494.8,507.3 493.0,507.7 488.2,507.7ZM497.1,501.1 498.9,500.7 503.7,500.7 503.7,505.5 501.9,505.9 497.1,505.9ZM506.0,499.3 507.8,498.9 512.6,498.9 512.6,503.7 510.8,504.1 506.0,504.1ZM514.9,497.5 516.7,497.2 521.5,497.2 521.5,502.0 519.7,502.3 514.9,502.3ZM523.8,495.8 525.6,495.4 530.4,495.4 530.4,500.2 528.6,500.6 523.8,500.6ZM532.7,494.1 534.5,493.7 539.3,493.7 539.3,498.5 537.5,498.9 532.7,498.9ZM541.6,492.4 543.4,492.1 548.2,492.1 548.2,496.9 546.4,497.2 541.6,497.2ZM550.5,490.8 552.3,490.4 557.1,490.4 557.1,495.2 555.3,495.6 550.5,495.6ZM559.4,489.2 561.2,488.8 566.0,488.8 566.0,493.6 564.2,494.0 559.4,494.0ZM568.3,487.6 570.1,487.3 574.9,487.3 574.9,492.1 573.1,492.4 568.3,492.4ZM577.2,486.0 579.0,485.7 583.8,485.7 583.8,490.5 582.0,490.8 577.2,490.8ZM586.1,484.5 587.9,484.2 592.7,484.2 592.7,489.0 590.9,489.3 586.1,489.3ZM595.0,483.0 596.8,482.7 601.6,482.7 601.6,487.5 599.8,487.8 595.0,487.8ZM603.9,481.5 605.7,481.2 610.5,481.2 610.5,486.0 608.7,486.3 603.9,486.3ZM612.8,480.1 614.6,479.8 619.4,479.8 619.4,484.6 617.6,484.9 612.8,484.9ZM621.7,478.7 623.5,478.4 628.3,478.4 628.3,483.2 626.5,483.5 621.7,483.5ZM630.6,477.3 632.4,477.0 637.2,477.0 637.2,481.8 635.4,482.1 630.6,482.1ZM639.5,475.9 641.3,475.6 646.1,475.6 646.1,480.4 644.3,480.7 639.5,480.7ZM648.4,474.5 650.2,474.2 655.0,474.2 655.0,479.0 653.2,479.3 648.4,479.3ZM657.3,473.2 659.1,472.9 663.9,472.9 663.9,477.7 662.1,478.0 657.3,478.0ZM666.2,471.8 668.0,471.6 672.8,471.6 672.8,476.4 671.0,476.6 666.2,476.6ZM675.1,470.5 676.9,470.3 681.7,470.3 681.7,475.1 679.9,475.3 675.1,475.3ZM684.0,469.2 685.8,469.0 690.6,469.0 690.6,473.8 688.8,474.0 684.0,474.0ZM692.9,468.0 694.7,467.7 699.5,467.7 699.5,472.5 697.7,472.8 692.9,472.8ZM701.8,466.7 703.6,466.4 708.4,466.4 708.4,471.2 706.6,471.5 701.8,471.5ZM710.7,465.5 712.5,465.2 717.3,465.2 717.3,470.0 715.5,470.3 710.7,470.3ZM719.6,464.2 721.4,464.0 726.2,464.0 726.2,468.8 724.4,469.0 719.6,469.0ZM728.5,463.0 730.3,462.8 735.1,462.8 735.1,467.6 733.3,467.8 728.5,467.8ZM737.4,461.8 739.2,461.6 744.0,461.6 744.0,466.4 742.2,466.6 737.4,466.6ZM746.3,460.6 748.1,460.4 752.9,460.4 752.9,465.2 751.1,465.4 746.3,465.4ZM755.2,459.5 757.0,459.2 761.8,459.2 761.8,464.0 760.0,464.3 755.2,464.3ZM764.1,458.3 765.9,458.1 770.7,458.1 770.7,462.9 768.9,463.1 764.1,463.1ZM773.0,457.2 774.8,456.9 779.6,456.9 779.6,461.7 777.8,462.0 773.0,462.0ZM781.9,456.0 783.7,455.8 788.5,455.8 788.5,460.6 786.7,460.8 781.9,460.8ZM790.8,454.9 792.6,454.7 797.4,454.7 797.4,459.5 795.6,459.7 790.8,459.7ZM799.7,453.8 801.5,453.6 806.3,453.6 806.3,458.4 804.5,458.6 799.7,458.6ZM808.6,452.7 810.4,452.5 815.2,452.5 815.2,457.3 813.4,457.5 808.6,457.5ZM817.5,451.7 819.3,451.4 824.1,451.4 824.1,456.2 822.3,456.5 817.5,456.5ZM826.4,450.6 828.2,450.4 833.0,450.4 833.0,455.2 831.2,455.4 826.4,455.4ZM835.3,449.5 837.1,449.3 841.9,449.3 841.9,454.1 840.1,454.3 835.3,454.3ZM844.2,448.5 846.0,448.3 850.8,448.3 850.8,453.1 849.0,453.3 844.2,453.3ZM853.1,447.4 854.9,447.2 859.7,447.2 859.7,452.0 857.9,452.2 853.1,452.2ZM862.0,446.4 863.8,446.2 868.6,446.2 868.6,451.0 866.8,451.2 862.0,451.2ZM870.9,445.4 872.7,445.2 877.5,445.2 877.5,450.0 875.7,450.2 870.9,450.2ZM879.8,444.4 881.6,444.2 886.4,444.2 886.4,449.0 884.6,449.2 879.8,449.2ZM888.7,443.4 890.5,443.2 895.3,443.2 895.3,448.0 893.5,448.2 888.7,448.2ZM897.6,442.4 899.4,442.2 904.2,442.2 904.2,447.0 902.4,447.2 897.6,447.2ZM906.5,441.4 908.3,441.2 913.1,441.2 913.1,446.0 911.3,446.2 906.5,446.2ZM915.4,440.5 917.2,440.3 922.0,440.3 922.0,445.1 920.2,445.3 915.4,445.3ZM924.3,439.5 926.1,439.3 930.9,439.3 930.9,444.1 929.1,444.3 924.3,444.3ZM933.2,438.5 935.0,438.4 939.8,438.4 939.8,443.2 938.0,443.3 933.2,443.3ZM942.1,437.6 943.9,437.4 948.7,437.4 948.7,442.2 946.9,442.4 942.1,442.4ZM951.0,436.7 952.8,436.5 957.6,436.5 957.6,441.3 955.8,441.5 951.0,441.5ZM959.9,435.7 961.7,435.6 966.5,435.6 966.5,440.4 964.7,440.5 959.9,440.5ZM968.8,434.8 970.6,434.6 975.4,434.6 975.4,439.4 973.6,439.6 968.8,439.6ZM977.7,433.9 979.5,433.7 984.3,433.7 984.3,438.5 982.5,438.7 977.7,438.7ZM986.6,433.0 988.4,432.8 993.2,432.8 993.2,437.6 991.4,437.8 986.6,437.8Z" fill="#000"/>
<path d="M179.3,727.4 179.6,725.4 179.7,725.0 184.2,725.0 184.2,729.5 184.1,729.9 183.8,731.9 179.3,731.9ZM181.8,714.0 182.4,712.0 183.1,710.0 183.8,708.0 184.7,706.0 185.7,704.0 186.4,702.7 190.9,702.7 190.9,707.2 190.2,708.5 189.2,710.5 188.3,712.5 187.6,714.5 186.9,716.5 186.3,718.5 181.8,718.5ZM195.0,691.9 197.0,690.2 197.4,689.8 201.9,689.8 201.9,694.3 201.5,694.7 199.5,696.4 195.0,696.4ZM208.4,682.3 210.4,681.2 212.4,680.1 214.4,679.1 216.4,678.1 218.4,677.2 219.7,676.6 224.2,676.6 224.2,681.1 222.9,681.7 220.9,682.6 218.9,683.6 216.9,684.6 214.9,685.7 212.9,686.8 208.4,686.8ZM230.5,672.2 232.5,671.4 232.9,671.3 237.4,671.3 237.4,675.8 237.0,675.9 235.0,676.7 230.5,676.7ZM243.9,667.6 245.9,667.0 247.9,666.4 249.9,665.8 251.9,665.2 253.9,664.6 255.2,664.3 259.7,664.3 259.7,668.8 258.4,669.1 256.4,669.7 254.4,670.3 252.4,670.9 250.4,671.5 248.4,672.1 243.9,672.1ZM266.0,661.4 268.0,660.9 268.4,660.8 272.9,660.8 272.9,665.3 272.5,665.4 270.5,665.9 266.0,665.9ZM279.4,658.2 281.4,657.8 283.4,657.3 285.4,656.9 287.4,656.5 289.4,656.0 290.7,655.8 295.2,655.8 295.2,660.3 293.9,660.5 291.9,661.0 289.9,661.4 287.9,661.8 285.9,662.3 283.9,662.7 279.4,662.7ZM301.5,653.6 303.5,653.2 303.9,653.1 308.4,653.1 308.4,657.6 308.0,657.7 306.0,658.1 301.5,658.1ZM314.9,651.1 316.9,650.7 318.9,650.4 320.9,650.0 322.9,649.7 324.9,649.3 326.2,649.1 330.7,649.1 330.7,653.6 329.4,653.8 327.4,654.2 325.4,654.5 323.4,654.9 321.4,655.2 319.4,655.6 314.9,655.6ZM337.0,647.3 339.0,647.0 339.4,646.9 343.9,646.9 343.9,651.4 343.5,651.5 341.5,651.8 337.0,651.8ZM350.4,645.2 352.4,644.9 354.4,644.6 356.4,644.3 358.4,644.0 360.4,643.7 361.7,643.5 366.2,643.5 366.2,648.0 364.9,648.2 362.9,648.5 360.9,648.8 358.9,649.1 356.9,649.4 354.9,649.7 350.4,649.7ZM372.5,642.0 374.5,641.7 374.9,641.7 379.4,641.7 379.4,646.2 379.0,646.2 377.0,646.5 372.5,646.5ZM385.9,640.2 387.9,639.9 389.9,639.7 391.9,639.4 393.9,639.1 395.9,638.9 397.2,638.7 401.7,638.7 401.7,643.2 400.4,643.4 398.4,643.6 396.4,643.9 394.4,644.2 392.4,644.4 390.4,644.7 385.9,644.7ZM408.0,637.4 410.0,637.1 410.4,637.1 414.9,637.1 414.9,641.6 414.5,641.6 412.5,641.9 408.0,641.9ZM421.4,635.8 423.4,635.5 425.4,635.3 427.4,635.1 429.4,634.8 431.4,634.6 432.7,634.5 437.2,634.5 437.2,639.0 435.9,639.1 433.9,639.3 431.9,639.6 429.9,639.8 427.9,640.0 425.9,640.3 421.4,640.3ZM443.5,633.2 445.5,633.0 445.9,633.0 450.4,633.0 450.4,637.5 450.0,637.5 448.0,637.7 443.5,637.7ZM456.9,631.8 458.9,631.6 460.9,631.4 462.9,631.2 464.9,630.9 466.9,630.7 468.2,630.6 472.7,630.6 472.7,635.1 471.4,635.2 469.4,635.4 467.4,635.7 465.4,635.9 463.4,636.1 461.4,636.3 456.9,636.3ZM479.0,629.5 481.0,629.3 481.4,629.3 485.9,629.3 485.9,633.8 485.5,633.8 483.5,634.0 479.0,634.0ZM492.4,628.2 494.4,628.0 496.4,627.8 498.4,627.6 500.4,627.4 502.4,627.2 503.7,627.1 508.2,627.1 508.2,631.6 506.9,631.7 504.9,631.9 502.9,632.1 500.9,632.3 498.9,632.5 496.9,632.7 492.4,632.7ZM514.5,626.1 516.5,625.9 516.9,625.8 521.4,625.8 521.4,630.3 521.0,630.4 519.0,630.6 514.5,630.6ZM527.9,624.8 529.9,624.7 531.9,624.5 533.9,624.3 535.9,624.1 537.9,624.0 539.2,623.8 543.7,623.8 543.7,628.3 542.4,628.5 540.4,628.6 538.4,628.8 536.4,629.0 534.4,629.2 532.4,629.3 527.9,629.3ZM550.0,622.9 552.0,622.7 552.4,622.7 556.9,622.7 556.9,627.2 556.5,627.2 554.5,627.4 550.0,627.4ZM563.4,621.8 565.4,621.6 567.4,621.4 569.4,621.3 571.4,621.1 573.4,620.9 574.7,620.8 579.2,620.8 579.2,625.3 577.9,625.4 575.9,625.6 573.9,625.8 571.9,625.9 569.9,626.1 567.9,626.3 563.4,626.3ZM585.5,619.9 587.5,619.8 587.9,619.7 592.4,619.7 592.4,624.2 592.0,624.3 590.0,624.4 585.5,624.4ZM598.9,618.9 600.9,618.7 602.9,618.6 604.9,618.4 606.9,618.2 608.9,618.1 610.2,618.0 614.7,618.0 614.7,622.5 613.4,622.6 611.4,622.7 609.4,622.9 607.4,623.1 605.4,623.2 603.4,623.4 598.9,623.4ZM621.0,617.2 623.0,617.0 623.4,617.0 627.9,617.0 627.9,621.5 627.5,621.5 625.5,621.7 621.0,621.7ZM634.4,616.2 636.4,616.0 638.4,615.9 640.4,615.7 642.4,615.6 644.4,615.4 645.7,615.3 650.2,615.3 650.2,619.8 648.9,619.9 646.9,620.1 644.9,620.2 642.9,620.4 640.9,620.5 638.9,620.7 634.4,620.7ZM656.5,614.5 658.5,614.4 658.9,614.4 663.4,614.4 663.4,618.9 663.0,618.9 661.0,619.0 656.5,619.0ZM669.9,613.6 671.9,613.5 673.9,613.3 675.9,613.2 677.9,613.0 679.9,612.9 681.2,612.8 685.7,612.8 685.7,617.3 684.4,617.4 682.4,617.5 680.4,617.7 678.4,617.8 676.4,618.0 674.4,618.1 669.9,618.1ZM692.0,612.1 694.0,611.9 694.4,611.9 698.9,611.9 698.9,616.4 698.5,616.4 696.5,616.6 692.0,616.6ZM705.4,611.2 707.4,611.0 709.4,610.9 711.4,610.8 713.4,610.6 715.4,610.5 716.7,610.4 721.2,610.4 721.2,614.9 719.9,615.0 717.9,615.1 715.9,615.3 713.9,615.4 711.9,615.5 709.9,615.7 705.4,615.7ZM727.5,609.7 729.5,609.6 729.9,609.6 734.4,609.6 734.4,614.1 734.0,614.1 732.0,614.2 727.5,614.2ZM740.9,608.9 742.9,608.7 744.9,608.6 746.9,608.5 748.9,608.3 750.9,608.2 752.2,608.1 756.7,608.1 756.7,612.6 755.4,612.7 753.4,612.8 751.4,613.0 749.4,613.1 747.4,613.2 745.4,613.4 740.9,613.4ZM763.0,607.5 765.0,607.3 765.4,607.3 769.9,607.3 769.9,611.8 769.5,611.8 767.5,612.0 763.0,612.0ZM776.4,606.6 778.4,606.5 780.4,606.4 782.4,606.3 784.4,606.2 786.4,606.0 787.7,606.0 792.2,606.0 792.2,610.5 790.9,610.5 788.9,610.7 786.9,610.8 784.9,610.9 782.9,611.0 780.9,611.1 776.4,611.1ZM798.5,605.3 800.5,605.2 800.9,605.2 805.4,605.2 805.4,609.7 805.0,609.7 803.0,609.8 798.5,609.8ZM811.9,604.5 813.9,604.4 815.9,604.3 817.9,604.2 819.9,604.1 821.9,603.9 823.2,603.9 827.7,603.9 827.7,608.4 826.4,608.4 824.4,608.6 822.4,608.7 820.4,608.8 818.4,608.9 816.4,609.0 811.9,609.0ZM834.0,603.2 836.0,603.1 836.4,603.1 840.9,603.1 840.9,607.6 840.5,607.6 838.5,607.7 834.0,607.7ZM847.4,602.5 849.4,602.4 851.4,602.3 853.4,602.2 855.4,602.0 857.4,601.9 858.7,601.9 863.2,601.9 863.2,606.4 861.9,606.4 859.9,606.5 857.9,606.7 855.9,606.8 853.9,606.9 851.9,607.0 847.4,607.0ZM869.5,601.3 871.5,601.2 871.9,601.1 876.4,601.1 876.4,605.6 876.0,605.7 874.0,605.8 869.5,605.8ZM882.9,600.5 884.9,600.4 886.9,600.3 888.9,600.2 890.9,600.1 892.9,600.0 894.2,599.9 898.7,599.9 898.7,604.4 897.4,604.5 895.4,604.6 893.4,604.7 891.4,604.8 889.4,604.9 887.4,605.0 882.9,605.0ZM905.0,599.4 907.0,599.3 907.4,599.2 911.9,599.2 911.9,603.7 911.5,603.8 909.5,603.9 905.0,603.9ZM918.4,598.7 920.4,598.5 922.4,598.4 924.4,598.3 926.4,598.2 928.4,598.1 929.7,598.1 934.2,598.1 934.2,602.6 932.9,602.6 930.9,602.7 928.9,602.8 926.9,602.9 924.9,603.0 922.9,603.2 918.4,603.2ZM940.5,597.5 942.5,597.4 942.9,597.4 947.4,597.4 947.4,601.9 947.0,601.9 945.0,602.0 940.5,602.0ZM953.9,596.8 955.9,596.7 957.9,596.6 959.9,596.5 961.9,596.4 963.9,596.3 965.2,596.3 969.7,596.3 969.7,600.8 968.4,600.8 966.4,600.9 964.4,601.0 962.4,601.1 960.4,601.2 958.4,601.3 953.9,601.3ZM976.0,595.7 978.0,595.6 978.4,595.6 982.9,595.6 982.9,600.1 982.5,600.1 980.5,600.2 976.0,600.2ZM989.4,595.1 991.4,595.0 993.4,594.9 995.4,594.8 997.4,594.7 999.4,594.6 1000.7,594.5 1005.2,594.5 1005.2,599.0 1003.9,599.1 1001.9,599.2 999.9,599.3 997.9,599.4 995.9,599.5 993.9,599.6 989.4,599.6Z" fill="#F20884"/>
<text text-anchor="start" transform="translate(393.5,273.8) scale(0.9830,1)" style="font-size:41.2px;fill:#27F822;stroke:#27F822;letter-spacing:-0.64px">Cooldown</text>
<text text-anchor="start" transform="translate(404.5,319.8) scale(0.9830,1)" style="font-size:41.2px;fill:#27F822;stroke:#27F822;letter-spacing:-0.26px">trajectory</text>
<path d="M177.8,733.1 308.1,624.5 415.6,517.0 524.5,350.1 586.0,124.0 586.0,46.5 592.0,46.5 592.0,52.5 592.0,129.9 530.5,355.9 421.4,523.0 313.9,630.5 183.6,739.1 177.8,739.1Z" fill="#27F822"/>
<g stroke="#0000D4" stroke-width="1.7" fill="none"><line x1="282.9" y1="28.7" x2="282.9" y2="42.7"/><line x1="282.9" y1="736.1" x2="282.9" y2="722.1"/><line x1="385.0" y1="28.7" x2="385.0" y2="42.7"/><line x1="385.0" y1="736.1" x2="385.0" y2="722.1"/><line x1="487.2" y1="28.7" x2="487.2" y2="42.7"/><line x1="487.2" y1="736.1" x2="487.2" y2="722.1"/><line x1="589.3" y1="28.7" x2="589.3" y2="42.7"/><line x1="589.3" y1="736.1" x2="589.3" y2="722.1"/><line x1="691.5" y1="28.7" x2="691.5" y2="42.7"/><line x1="691.5" y1="736.1" x2="691.5" y2="722.1"/><line x1="793.7" y1="28.7" x2="793.7" y2="42.7"/><line x1="793.7" y1="736.1" x2="793.7" y2="722.1"/><line x1="895.8" y1="28.7" x2="895.8" y2="42.7"/><line x1="895.8" y1="736.1" x2="895.8" y2="722.1"/><line x1="180.7" y1="594.6" x2="194.7" y2="594.6"/><line x1="998.0" y1="594.6" x2="984.0" y2="594.6"/><line x1="180.7" y1="453.1" x2="194.7" y2="453.1"/><line x1="998.0" y1="453.1" x2="984.0" y2="453.1"/><line x1="180.7" y1="311.7" x2="194.7" y2="311.7"/><line x1="998.0" y1="311.7" x2="984.0" y2="311.7"/><line x1="180.7" y1="170.2" x2="194.7" y2="170.2"/><line x1="998.0" y1="170.2" x2="984.0" y2="170.2"/><rect x="180.7" y="28.7" width="817.3" height="707.4"/></g>
<text text-anchor="start" transform="translate(315.4,160.7) scale(0.9552,1)" style="font-size:42.4px">4K</text>
<text text-anchor="start" transform="translate(655.2,161.1) scale(0.9552,1)" style="font-size:42.4px">77K</text>
<text text-anchor="start" transform="translate(632.8,383.6) scale(0.9552,1)" style="font-size:42.4px">293K</text>
<text text-anchor="start" transform="translate(646.5,525.0) scale(0.9552,1)" style="font-size:42.4px">500K</text>
<text text-anchor="start" transform="translate(637.2,667.9) scale(0.9552,1)" style="font-size:42.4px">900K</text>
<text text-anchor="end" transform="translate(161.3,747.6) scale(0.9552,1)" style="font-size:42.4px">0</text>
<g transform="translate(145.2,606.1) scale(0.9434,1)"><text x="0.00" text-anchor="end" style="font-size:42.4px">2 <tspan dx="1.48">1</tspan><tspan dx="-1.48">0</tspan></text><g fill="#fff"><rect x="-44.05" y="-4.77" width="8.73" height="6.37"/><rect x="-30.97" y="-4.77" width="8.40" height="6.37"/></g></g>
<text text-anchor="start" transform="translate(146.2,585.5) scale(0.9550,1)" style="font-size:28.0px">7</text>
<g transform="translate(145.2,464.6) scale(0.9434,1)"><text x="0.00" text-anchor="end" style="font-size:42.4px">4 <tspan dx="1.48">1</tspan><tspan dx="-1.48">0</tspan></text><g fill="#fff"><rect x="-44.05" y="-4.77" width="8.73" height="6.37"/><rect x="-30.97" y="-4.77" width="8.40" height="6.37"/></g></g>
<text text-anchor="start" transform="translate(146.2,444.0) scale(0.9550,1)" style="font-size:28.0px">7</text>
<g transform="translate(145.2,323.2) scale(0.9434,1)"><text x="0.00" text-anchor="end" style="font-size:42.4px">6 <tspan dx="1.48">1</tspan><tspan dx="-1.48">0</tspan></text><g fill="#fff"><rect x="-44.05" y="-4.77" width="8.73" height="6.37"/><rect x="-30.97" y="-4.77" width="8.40" height="6.37"/></g></g>
<text text-anchor="start" transform="translate(146.2,302.6) scale(0.9550,1)" style="font-size:28.0px">7</text>
<g transform="translate(145.2,181.7) scale(0.9434,1)"><text x="0.00" text-anchor="end" style="font-size:42.4px">8 <tspan dx="1.48">1</tspan><tspan dx="-1.48">0</tspan></text><g fill="#fff"><rect x="-44.05" y="-4.77" width="8.73" height="6.37"/><rect x="-30.97" y="-4.77" width="8.40" height="6.37"/></g></g>
<text text-anchor="start" transform="translate(146.2,161.1) scale(0.9550,1)" style="font-size:28.0px">7</text>
<g transform="translate(145.2,40.2) scale(0.9434,1)"><text x="-1.48" text-anchor="end" style="font-size:42.4px"><tspan dx="1.48">1</tspan><tspan dx="-1.48"> </tspan><tspan dx="1.48">1</tspan><tspan dx="-1.48">0</tspan></text><g fill="#fff"><rect x="-79.41" y="-4.77" width="8.73" height="6.37"/><rect x="-66.33" y="-4.77" width="8.40" height="6.37"/><rect x="-44.05" y="-4.77" width="8.73" height="6.37"/><rect x="-30.97" y="-4.77" width="8.40" height="6.37"/></g></g>
<text text-anchor="start" transform="translate(146.2,19.6) scale(0.9550,1)" style="font-size:28.0px">8</text>
<text text-anchor="middle" transform="translate(181.0,812.0) rotate(-90) scale(0.9552,1)" style="font-size:42.4px">0</text>
<g transform="translate(283.2,812.0) rotate(-90) scale(0.9552,1)"><text x="0.73" text-anchor="middle" style="font-size:42.4px">0.00<tspan dx="1.47">1</tspan></text><g fill="#fff"><rect x="32.57" y="-4.77" width="8.73" height="6.37"/><rect x="45.65" y="-4.77" width="8.40" height="6.37"/></g></g>
<text text-anchor="middle" transform="translate(385.3,812.0) rotate(-90) scale(0.9552,1)" style="font-size:42.4px">0.002</text>
<text text-anchor="middle" transform="translate(487.5,812.0) rotate(-90) scale(0.9552,1)" style="font-size:42.4px">0.003</text>
<text text-anchor="middle" transform="translate(589.6,812.0) rotate(-90) scale(0.9552,1)" style="font-size:42.4px">0.004</text>
<text text-anchor="middle" transform="translate(691.8,812.0) rotate(-90) scale(0.9552,1)" style="font-size:42.4px">0.005</text>
<text text-anchor="middle" transform="translate(794.0,812.0) rotate(-90) scale(0.9552,1)" style="font-size:42.4px">0.006</text>
<text text-anchor="middle" transform="translate(896.1,812.0) rotate(-90) scale(0.9552,1)" style="font-size:42.4px">0.007</text>
<text text-anchor="middle" transform="translate(998.3,812.0) rotate(-90) scale(0.9552,1)" style="font-size:42.4px">0.008</text>
<text text-anchor="start" transform="translate(21.3,834.0) scale(0.9783,1)" style="font-size:41.4px">Strain</text>
<text text-anchor="middle" transform="translate(30.2,380.5) rotate(-90) scale(0.9783,1)" style="font-size:41.4px;letter-spacing:-0.38px">Stress Pa</text>
</svg></body></html>
